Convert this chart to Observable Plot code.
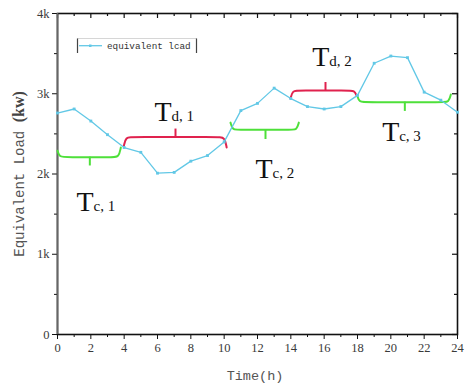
<!DOCTYPE html>
<html><head><meta charset="utf-8">
<script src="https://cdn.jsdelivr.net/npm/d3@7"></script>
<script src="https://cdn.jsdelivr.net/npm/@observablehq/plot@0.6"></script>
<style>body{margin:0;background:#fff}#chart{width:474px;height:387px}</style>
</head><body><div id="chart"></div>
<script>
// ---- data ----
const hours = [0,1,2,3,4,5,6,7,8,9,10,11,12,13,14,15,16,17,18,19,20,21,22,23,24];
const load  = [2760,2810,2660,2490,2330,2270,2010,2020,2160,2230,2400,2790,2880,3070,2940,2840,2810,2840,2980,3380,3470,3450,3020,2920,2770];
const seriesName = "equivalent lcad";

const xMajorTicks = [0,2,4,6,8,10,12,14,16,18,20,22,24];
const xMinorTicks = [1,3,5,7,9,11,13,15,17,19,21,23];
const yMajorTicks = [0,1000,2000,3000,4000];
const yMinorTicks = [500,1500,2500,3500];
const yTickLabels = ["0","1k","2k","3k","4k"];

// braces (charge / discharge periods)
const braceKind   = ["c","d","c","d","c"];
const braceStart  = [0, 3.98, 10.38, 13.98, 17.98];
const braceEnd    = [3.8, 10.15, 14.48, 17.94, 23.6];
const braceStartY = [2290, 2350, 2640, 2940, 2980];
const braceLevel  = [2210, 2460, 2550, 3040, 2895];
const braceEndY   = [2330, 2330, 2640, 2980, 2990];
const braceTipX   = [1.94, 7.08, 12.48, 16.08, 20.84];
const braceTipY   = [2100, 2560, 2430, 3140, 2780];

// labels
const labelMain = ["T","T","T","T","T"];
const labelSub  = ["c, 1","d, 1","c, 2","d, 2","c, 3"];
const labelX    = [1.14, 5.82, 11.88, 15.28, 19.48];
const labelY    = [1545, 2658, 1956, 3352, 2417];

// ---- build ----
const W = 474, H = 387;
const M = {top: 13, right: 17, bottom: 53, left: 57};
const innerW = W - M.left - M.right, innerH = H - M.top - M.bottom;
const cyan = "#62c8e6", green = "#4ee03a", red = "#e0224e";
const kindColor = k => k === "c" ? green : red;

const loadData = hours.map((h, i) => ({h, v: load[i]}));
const braces = braceKind.map((k, i) => {
  const x0 = braceStart[i], x1 = braceEnd[i], lv = braceLevel[i];
  return [[x0, braceStartY[i]], [x0 + 0.12, lv], [x0 + 0.5, lv], [x1 - 0.5, lv], [x1 - 0.12, lv], [x1, braceEndY[i]]]
    .map(([x, y]) => ({x, y, id: i, kind: k}));
}).flat();
const braceTips = braceKind.map((k, i) => ({x: braceTipX[i], y1: braceLevel[i], y2: braceTipY[i], kind: k}));
const labels = labelMain.map((t, i) => ({t, s: labelSub[i], x: labelX[i], y: labelY[i]}));

const plot = Plot.plot({
  width: W, height: H,
  marginTop: M.top, marginRight: M.right, marginBottom: M.bottom, marginLeft: M.left,
  style: {background: "#fff", overflow: "visible", fontFamily: "Liberation Serif", fontSize: "12.5px", color: "#3a3a3a"},
  x: {domain: [0, 24], label: null},
  y: {domain: [0, 4000], label: null},
  marks: [
    // bottom axis
    Plot.axisX({ticks: xMajorTicks, tickSize: 5, tickPadding: 4, label: null, stroke: "#111"}),
    Plot.axisX({ticks: xMinorTicks, tickSize: 3, text: null, label: null, stroke: "#111"}),
    // left axis
    Plot.axisY({ticks: yMajorTicks, tickSize: 5, tickPadding: 3, tickFormat: d => yTickLabels[yMajorTicks.indexOf(d)], label: null, stroke: "#111"}),
    Plot.axisY({ticks: yMinorTicks, tickSize: 3, text: null, label: null, stroke: "#111"}),
    // top inward ticks
    Plot.tickX(xMajorTicks, {x: d => d, insetBottom: innerH - 5, stroke: "#111", strokeWidth: 1.2}),
    Plot.tickX(xMinorTicks, {x: d => d, insetBottom: innerH - 3, stroke: "#111", strokeWidth: 1.2}),
    // right inward ticks
    Plot.tickY(yMajorTicks, {y: d => d, insetLeft: innerW - 5, stroke: "#111", strokeWidth: 1.2}),
    Plot.tickY(yMinorTicks, {y: d => d, insetLeft: innerW - 3, stroke: "#111", strokeWidth: 1.2}),
    Plot.frame({stroke: "#111", strokeWidth: 1.6}),
    Plot.ruleX([0], {stroke: "#666", strokeWidth: 1.6}),
    // braces
    Plot.line(braces, {x: "x", y: "y", z: "id", stroke: d => kindColor(d.kind), curve: "basis", strokeWidth: 2}),
    Plot.ruleX(braceTips, {x: "x", y1: "y1", y2: "y2", stroke: d => kindColor(d.kind), strokeWidth: 2}),
    // load line
    Plot.line(loadData, {x: "h", y: "v", stroke: cyan, strokeWidth: 1.3}),
    Plot.dot(loadData, {x: "h", y: "v", symbol: "square", r: 1.6, fill: cyan, stroke: null}),
    // labels
    Plot.text(labels, {x: "x", y: "y", text: "t", fontSize: 28, fontFamily: "Liberation Serif", textAnchor: "start", lineAnchor: "bottom", fill: "#111"}),
    Plot.text(labels, {x: "x", y: "y", text: "s", dx: 17, fontSize: 15, fontFamily: "Liberation Serif", textAnchor: "start", lineAnchor: "bottom", fill: "#111"})
  ]
});
document.getElementById("chart").appendChild(plot);

// overlays: axis titles and legend
const svg = d3.select(plot);
const yt = svg.append("text")
  .attr("transform", `translate(24,174) rotate(-90)`)
  .attr("text-anchor", "middle").attr("fill", "#555");
yt.append("tspan").attr("font-family", "Liberation Mono").attr("font-size", 14).text("Equivalent Load ");
yt.append("tspan").attr("font-family", "Liberation Serif").attr("font-weight", "bold").attr("font-size", 16).attr("fill", "#444").text("(kw)");

svg.append("text").attr("x", 255).attr("y", 380).attr("text-anchor", "middle")
  .attr("font-family", "Liberation Mono").attr("font-size", 13.5).attr("fill", "#555").text("Time(h)");

const lg = svg.append("g");
lg.append("path").attr("d", "M77.5,53V38.5H196.5V53").attr("fill", "none").attr("stroke", "#ccc").attr("stroke-width", 0.8);
lg.append("line").attr("x1", 77.5).attr("x2", 77.5).attr("y1", 38.5).attr("y2", 53).attr("stroke", "#444").attr("stroke-width", 1.2);
lg.append("line").attr("x1", 196.5).attr("x2", 196.5).attr("y1", 38.5).attr("y2", 53).attr("stroke", "#444").attr("stroke-width", 1.2);
lg.append("line").attr("x1", 79).attr("x2", 102).attr("y1", 45.7).attr("y2", 45.7).attr("stroke", cyan).attr("stroke-width", 1.3);
lg.append("rect").attr("x", 89).attr("y", 44.5).attr("width", 2.5).attr("height", 2.5).attr("fill", cyan);
lg.append("text").attr("x", 107).attr("y", 49).attr("text-anchor", "start").attr("font-family", "Liberation Mono").attr("font-size", 9.3).attr("fill", "#333").text(seriesName);
</script>
</body></html>
